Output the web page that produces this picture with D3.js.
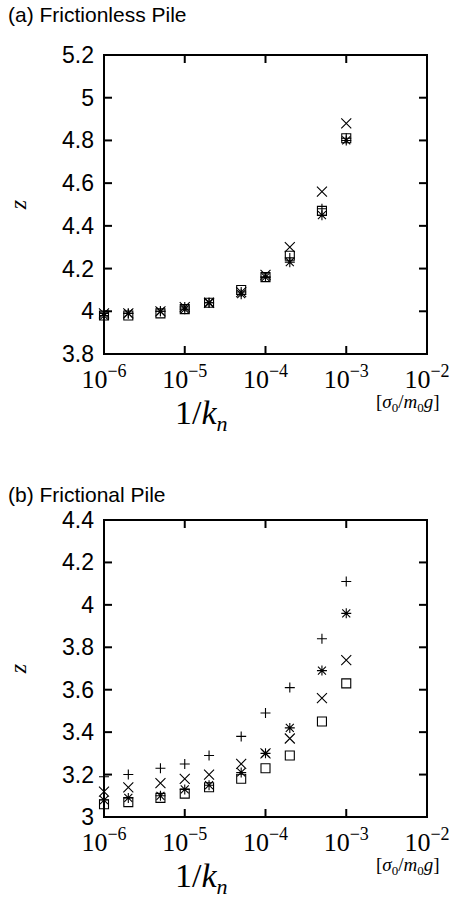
<!DOCTYPE html>
<html><head><meta charset="utf-8">
<script src="https://cdn.jsdelivr.net/npm/d3@7"></script>
<style>body{margin:0;background:#fff}</style>
</head><body><div id="chart"></div>
<script>
// Data
const kInv = [1e-6, 2e-6, 5e-6, 1e-5, 2e-5, 5e-5, 1e-4, 2e-4, 5e-4, 1e-3];
const xTicks = [1e-6, 1e-5, 1e-4, 1e-3, 1e-2];

const aPlus = [3.99, 3.99, 4.00, 4.02, 4.04, 4.09, 4.16, 4.25, 4.48, 4.81];
const aCross = [3.99, 3.99, 4.00, 4.02, 4.04, 4.09, 4.17, 4.30, 4.56, 4.88];
const aStar = [3.98, 3.99, 4.00, 4.01, 4.04, 4.08, 4.16, 4.23, 4.45, 4.80];
const aSquare = [3.98, 3.98, 3.99, 4.01, 4.04, 4.10, 4.16, 4.26, 4.47, 4.81];
const aTicks = [3.8, 4, 4.2, 4.4, 4.6, 4.8, 5, 5.2];

const bPlus = [3.19, 3.20, 3.23, 3.25, 3.29, 3.38, 3.49, 3.61, 3.84, 4.11];
const bCross = [3.12, 3.14, 3.16, 3.18, 3.20, 3.25, 3.30, 3.37, 3.56, 3.74];
const bStar = [3.08, 3.09, 3.10, 3.13, 3.15, 3.21, 3.30, 3.42, 3.69, 3.96];
const bSquare = [3.06, 3.07, 3.09, 3.11, 3.14, 3.18, 3.23, 3.29, 3.45, 3.63];
const bTicks = [3, 3.2, 3.4, 3.6, 3.8, 4, 4.2, 4.4];

const svg = d3.select("#chart").append("svg").attr("width", 474).attr("height", 913);
const left = 104, right = 427;
const x = d3.scaleLog().domain([1e-6, 1e-2]).range([left, right]);

function marker(g, type, cx, cy) {
  const s = 5;
  let p;
  if (type == "plus") p = `M${cx-s},${cy}H${cx+s}M${cx},${cy-s}V${cy+s}`;
  else if (type == "cross") p = `M${cx-s},${cy-s}L${cx+s},${cy+s}M${cx-s},${cy+s}L${cx+s},${cy-s}`;
  else if (type == "star") p = `M${cx-s},${cy}H${cx+s}M${cx},${cy-s}V${cy+s}M${cx-4},${cy-4}L${cx+4},${cy+4}M${cx-4},${cy+4}L${cx+4},${cy-4}`;
  else p = `M${cx-4.5},${cy-4.5}h9v9h-9Z`;
  g.append("path").attr("d", p).attr("fill", "none").attr("stroke", "#000").attr("stroke-width", 1.1);
}

function panel(title, titleY, top, bottom, ticks, series) {
  const y = d3.scaleLinear().domain([ticks[0], ticks[ticks.length - 1]]).range([bottom, top]);
  const g = svg.append("g");
  g.append("text").attr("x", 8).attr("y", titleY).text(title)
    .attr("font-family", "Liberation Sans, Arial").attr("font-size", 21);
  g.append("rect").attr("x", left).attr("y", top).attr("width", right - left).attr("height", bottom - top)
    .attr("fill", "none").attr("stroke", "#000").attr("stroke-width", 2);
  ticks.forEach((t, i) => {
    const yy = y(t);
    if (i > 0 && i < ticks.length - 1) {
      g.append("line").attr("x1", left).attr("x2", left + 8).attr("y1", yy).attr("y2", yy).attr("stroke", "#000").attr("stroke-width", 2);
      g.append("line").attr("x1", right).attr("x2", right - 8).attr("y1", yy).attr("y2", yy).attr("stroke", "#000").attr("stroke-width", 2);
    }
    g.append("text").attr("x", left - 10).attr("y", yy + 8).attr("text-anchor", "end").text(t)
      .attr("font-family", "Liberation Sans, Arial").attr("font-size", 23);
  });
  xTicks.forEach((t, i) => {
    const xx = x(t);
    if (i > 0 && i < xTicks.length - 1) {
      g.append("line").attr("x1", xx).attr("x2", xx).attr("y1", bottom).attr("y2", bottom - 8).attr("stroke", "#000").attr("stroke-width", 2);
      g.append("line").attr("x1", xx).attr("x2", xx).attr("y1", top).attr("y2", top + 8).attr("stroke", "#000").attr("stroke-width", 2);
    }
    const tx = g.append("text").attr("x", xx).attr("y", bottom + 34).attr("text-anchor", "middle")
      .attr("font-family", "Liberation Serif, Times New Roman").attr("font-size", 26);
    tx.append("tspan").text("10");
    tx.append("tspan").attr("dy", -11).attr("font-size", 18).text("\u2212" + Math.round(-Math.log10(t)));
  });
  series.forEach(([type, vals]) => {
    kInv.forEach((k, i) => marker(g, type, x(k), y(vals[i])));
  });
  g.append("text").attr("transform", `translate(26,${(top + bottom) / 2}) rotate(-90)`).attr("text-anchor", "middle")
    .attr("font-family", "Liberation Serif").attr("font-style", "italic").attr("font-size", 24).text("z");
  const xl = g.append("text").attr("x", 175).attr("y", bottom + 70)
    .attr("font-family", "Liberation Serif").attr("font-size", 34);
  xl.append("tspan").text("1/");
  xl.append("tspan").attr("font-style", "italic").text("k");
  xl.append("tspan").attr("font-style", "italic").attr("font-size", 22).attr("dy", 7).text("n");
  const un = g.append("text").attr("x", 376).attr("y", bottom + 54)
    .attr("font-family", "Liberation Serif").attr("font-size", 19);
  un.append("tspan").text("[");
  un.append("tspan").attr("font-style", "italic").text("σ");
  un.append("tspan").attr("font-size", 13).attr("dy", 4).text("0");
  un.append("tspan").attr("dy", -4).text("/");
  un.append("tspan").attr("font-style", "italic").text("m");
  un.append("tspan").attr("font-size", 13).attr("dy", 4).text("0");
  un.append("tspan").attr("dy", -4).attr("font-style", "italic").text("g");
  un.append("tspan").text("]");
}

panel("(a) Frictionless Pile", 22, 55, 354, aTicks,
  [["square", aSquare], ["plus", aPlus], ["cross", aCross], ["star", aStar]]);
panel("(b) Frictional Pile", 502, 520, 817, bTicks,
  [["square", bSquare], ["plus", bPlus], ["cross", bCross], ["star", bStar]]);
</script></body></html>
